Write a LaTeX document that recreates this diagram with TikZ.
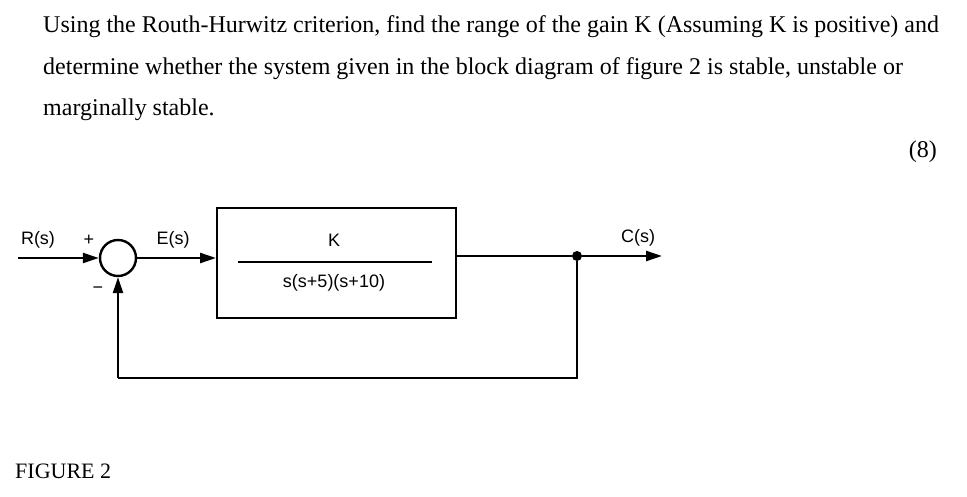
\documentclass[tikz,border=0pt]{standalone}
\usepackage{fontspec}
\setmainfont{Liberation Serif}
\newfontfamily\diag{Liberation Sans}
\usetikzlibrary{arrows.meta}
\begin{document}
\begin{tikzpicture}[x=1pt,y=-1pt,
  txt/.style={anchor=west,inner sep=0pt,font=\fontsize{24}{28}\selectfont},
  lbl/.style={inner sep=0pt,font=\diag\fontsize{18}{21}\selectfont},
  sig/.style={line width=2.4pt},
  arr/.style={sig,-{Triangle[length=16pt,width=10pt]}}]
\useasboundingbox (0,0) rectangle (967,497);
\node[txt] (l1) at (43,27) {Using the Routh-Hurwitz criterion, find the range of the gain K (Assuming K is positive) and};
\node[txt] (l2) at (43,69) {determine whether the system given in the block diagram of figure 2 is stable, unstable or};
\node[txt] (l3) at (43,110) {marginally stable.};
\node[txt,anchor=east] (m) at (937,152) {(8)};
\node[txt,font=\fontsize{22}{26}\selectfont] (fig) at (15,471) {FIGURE 2};
% diagram
\coordinate (in) at (18,258);
\node[draw,circle,line width=2.4pt,minimum size=36pt,inner sep=0pt] (sum) at (118,258) {};
\node[draw,line width=2pt,minimum width=239pt,minimum height=110pt,inner sep=0pt] (blk) at (336.5,263) {};
\node[lbl] (K) at (334,240) {K};
\node[lbl] (den) at (334,283) {s(s+5)(s+10)};
\draw[line width=1.8pt] (238,262) -- (432,262);
\node[circle,fill,inner sep=0pt,minimum size=10pt] (dot) at (577,256) {};
\coordinate (out) at (662,256);
\coordinate (fb1) at (577,378);
\coordinate (fb2) at (118,378);
\draw[arr] (in) -- (sum.west);
\draw[arr] (sum.east) -- (blk.west |- sum.east);
\draw[sig] (blk.east |- dot) -- (dot);
\draw[arr] (dot) -- (out);
\draw[sig] (dot) -- (fb1) -- (fb2);
\draw[arr] (fb2) -- (sum.south);
\node[lbl] (R) at (38,240) {R(s)};
\node[lbl] (plus) at (89,240) {+};
\node[lbl] (minus) at (98,290) {−};
\node[lbl] (E) at (173,240) {E(s)};
\node[lbl] (C) at (638,238) {C(s)};
\end{tikzpicture}
\end{document}
